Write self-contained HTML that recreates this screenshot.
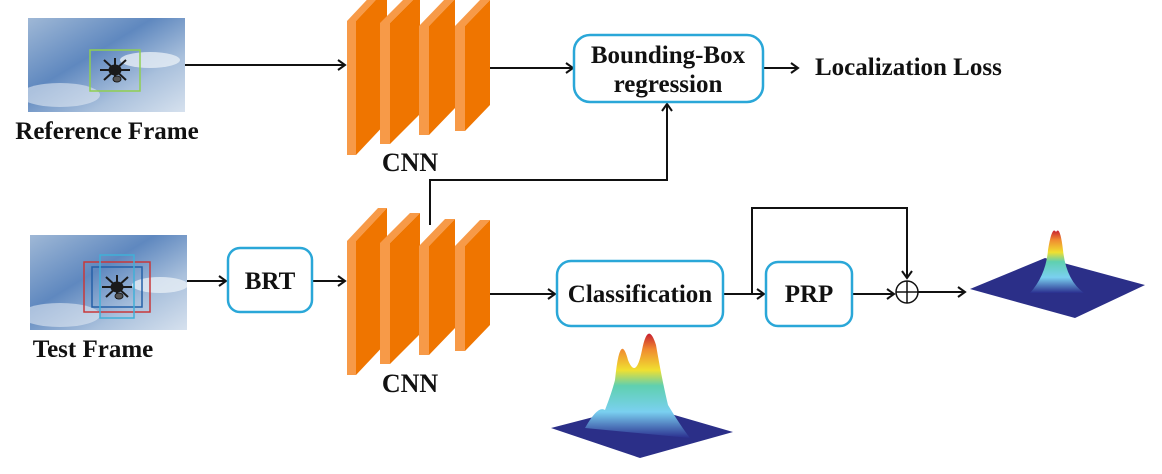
<!DOCTYPE html>
<html><head><meta charset="utf-8"><style>
html,body{margin:0;padding:0;background:#fff}
svg{display:block}
text{font-family:"Liberation Serif",serif;font-weight:bold;fill:#111}
</style></head><body>
<svg width="1162" height="474" viewBox="0 0 1162 474" xmlns="http://www.w3.org/2000/svg">
<defs>
<linearGradient id="sky" x1="0" y1="0" x2="1" y2="1">
<stop offset="0" stop-color="#9fb8d6"/><stop offset="0.4" stop-color="#5f88bf"/><stop offset="0.7" stop-color="#a9c0dc"/><stop offset="1" stop-color="#d6e1ee"/>
</linearGradient>
<linearGradient id="jet" x1="0" y1="1" x2="0" y2="0">
<stop offset="0" stop-color="#2a2f8f"/><stop offset="0.25" stop-color="#7ad0f0"/><stop offset="0.5" stop-color="#5fd0b0"/><stop offset="0.65" stop-color="#f0e030"/><stop offset="0.85" stop-color="#f08a30"/><stop offset="1" stop-color="#c82030"/>
</linearGradient>
<clipPath id="c1"><rect x="28" y="18" width="157" height="94"/></clipPath>
<clipPath id="c2"><rect x="30" y="235" width="157" height="95"/></clipPath>
<marker id="ar" markerWidth="12" markerHeight="12" refX="10" refY="6" orient="auto" markerUnits="userSpaceOnUse">
<path d="M3,1 L10,6 L3,11" fill="none" stroke="#111" stroke-width="2"/>
</marker>
<g id="cnn">
<polygon points="347,241 356,241 356,375 347,375" fill="#f79a48"/><polygon points="347,241 356,241 387,208 378,208" fill="#f79a48"/><polygon points="356,241 387,208 387,342 356,375" fill="#ef7500"/>
<polygon points="380,243 390,243 390,364 380,364" fill="#f79a48"/><polygon points="380,243 390,243 420,213 410,213" fill="#f79a48"/><polygon points="390,243 420,213 420,334 390,364" fill="#ef7500"/>
<polygon points="419,246 429,246 429,355 419,355" fill="#f79a48"/><polygon points="419,246 429,246 455,219 445,219" fill="#f79a48"/><polygon points="429,246 455,219 455,328 429,355" fill="#ef7500"/>
<polygon points="455,246 465,246 465,351 455,351" fill="#f79a48"/><polygon points="455,246 465,246 490,220 480,220" fill="#f79a48"/><polygon points="465,246 490,220 490,325 465,351" fill="#ef7500"/>
</g>
<g id="drone" fill="#1a1a1a" stroke="#1a1a1a">
<line x1="-15" y1="0" x2="15" y2="0" stroke-width="2"/><line x1="-11" y1="-10" x2="11" y2="10" stroke-width="2"/><line x1="11" y1="-10" x2="-11" y2="10" stroke-width="2"/><line x1="0" y1="-12" x2="0" y2="12" stroke-width="2"/>
<ellipse cx="0" cy="0" rx="6" ry="5"/><ellipse cx="2" cy="9" rx="4" ry="3" fill="#555"/>
</g>
</defs>

<rect x="28" y="18" width="157" height="94" fill="url(#sky)"/>
<g clip-path="url(#c1)">
<ellipse cx="150" cy="60" rx="30" ry="8" fill="#e6edf5" opacity="0.8"/>
<ellipse cx="60" cy="95" rx="40" ry="12" fill="#dfe7f1" opacity="0.6"/>
</g>
<use href="#drone" x="115" y="70"/>
<rect x="90" y="50" width="50" height="41" fill="none" stroke="#8fcf50" stroke-width="1.5"/>

<rect x="30" y="235" width="157" height="95" fill="url(#sky)"/>
<g clip-path="url(#c2)">
<ellipse cx="160" cy="285" rx="28" ry="8" fill="#e6edf5" opacity="0.8"/>
<ellipse cx="60" cy="315" rx="40" ry="12" fill="#dfe7f1" opacity="0.6"/>
</g>
<use href="#drone" x="117" y="287"/>
<rect x="84" y="262" width="66" height="50" fill="none" stroke="#c8383a" stroke-width="1.5"/>
<rect x="92" y="267" width="50" height="40" fill="none" stroke="#2460a8" stroke-width="1.5"/>
<rect x="100" y="255" width="34" height="63" fill="none" stroke="#40b0d8" stroke-width="1.5"/>

<text x="107" y="139" font-size="25" text-anchor="middle">Reference Frame</text>
<text x="93" y="357" font-size="25" text-anchor="middle">Test Frame</text>

<use href="#cnn" y="-220"/>
<use href="#cnn"/>
<text x="410" y="171" font-size="26" text-anchor="middle">CNN</text>
<text x="410" y="392" font-size="26" text-anchor="middle">CNN</text>

<g fill="none" stroke="#111" stroke-width="2">
<line x1="185" y1="65" x2="345" y2="65" marker-end="url(#ar)"/>
<line x1="490" y1="68" x2="573" y2="68" marker-end="url(#ar)"/>
<line x1="763" y1="68" x2="798" y2="68" marker-end="url(#ar)"/>
<polyline points="430,225 430,180 667,180 667,104" marker-end="url(#ar)"/>
<line x1="187" y1="281" x2="226" y2="281" marker-end="url(#ar)"/>
<line x1="312" y1="281" x2="345" y2="281" marker-end="url(#ar)"/>
<line x1="490" y1="294" x2="555" y2="294" marker-end="url(#ar)"/>
<line x1="723" y1="294" x2="764" y2="294" marker-end="url(#ar)"/>
<polyline points="752,294 752,208 907,208 907,278" marker-end="url(#ar)"/>
<line x1="852" y1="294" x2="894" y2="294" marker-end="url(#ar)"/>
<line x1="918" y1="292" x2="965" y2="292" marker-end="url(#ar)"/>
<circle cx="907" cy="292" r="11" stroke-width="1.5"/>
<line x1="896" y1="292" x2="918" y2="292" stroke-width="1.5"/>
<line x1="907" y1="281" x2="907" y2="303" stroke-width="1.5"/>
</g>

<g fill="#fff" stroke="#2aa7d8" stroke-width="2.5">
<rect x="574" y="35" width="189" height="67" rx="16"/>
<rect x="228" y="248" width="84" height="64" rx="12"/>
<rect x="557" y="261" width="166" height="65" rx="14"/>
<rect x="766" y="262" width="86" height="64" rx="12"/>
</g>
<text x="668" y="63" font-size="25" text-anchor="middle">Bounding-Box</text>
<text x="668" y="92" font-size="25" text-anchor="middle">regression</text>
<text x="815" y="75" font-size="25">Localization Loss</text>
<text x="270" y="289" font-size="25" text-anchor="middle">BRT</text>
<text x="640" y="302" font-size="25" text-anchor="middle">Classification</text>
<text x="809" y="302" font-size="25" text-anchor="middle">PRP</text>

<polygon points="551,428 640,405 733,432 640,458" fill="#2b2f88"/>
<path d="M585,428 Q598,405 605,410 Q612,392 615,380 Q620,330 628,360 Q636,380 642,350 Q648,320 656,345 Q662,380 668,405 Q680,425 690,438 Z" fill="url(#jet)"/>
<polygon points="970,289 1045,258 1145,285 1075,318" fill="#2b2f88"/>
<path d="M1030,293 Q1046,275 1048,250 Q1052,225 1056,232 Q1060,225 1063,250 Q1066,280 1084,293 Z" fill="url(#jet)"/>
</svg>
</body></html>
